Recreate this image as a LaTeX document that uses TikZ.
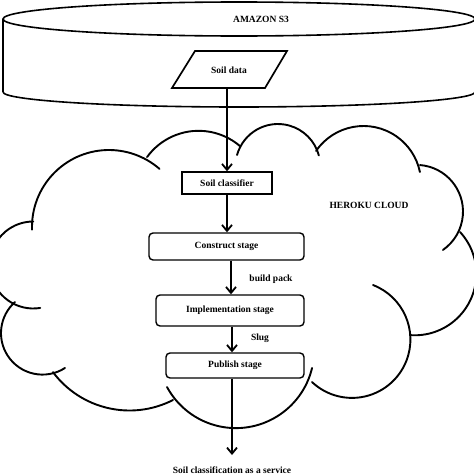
\documentclass[tikz,border=0pt]{standalone}
\usepackage{fontspec}
\setmainfont{Liberation Serif}
\usetikzlibrary{arrows.meta}
\newcommand\cloudarc[5]{\draw[cloudline] (#1,#2) ++(#3:#5) arc[start angle=#3, end angle=#4, radius=#5];}
\begin{document}
\begin{tikzpicture}[x=1pt,y=-1pt,
  lbl/.style={font=\fontsize{9.5}{11}\selectfont\bfseries, inner sep=0pt},
  cloudline/.style={line width=1.9pt, line cap=round},
  cylline/.style={line width=1.6pt},
  box/.style={draw, line width=1.4pt, fill=white, font=\fontsize{9.5}{11}\selectfont\bfseries, inner sep=0pt},
  stagebox/.style={box, rounded corners=4pt},
  arr/.style={line width=1.8pt, -{Straight Barb[length=6pt,width=10pt,line width=1.8pt]}}]
\fill[white] (0,0) rectangle (474,474);
\useasboundingbox (0,0) rectangle (474,474);
% cylinder (Amazon S3)
\draw[cylline] (239,19) ellipse [x radius=236, y radius=17];
\draw[cylline] (3,19) -- (3,92);
\draw[cylline] (475,19) -- (475,92);
\draw[cylline] (3,92) arc[start angle=180, end angle=0, x radius=236, y radius=15];
\node[lbl] (s3) at (261,19) {AMAZON S3};
% soil data parallelogram
\coordinate (p1) at (195,51);
\coordinate (p2) at (287,51);
\coordinate (p3) at (265,88);
\coordinate (p4) at (172,88);
\draw[line width=1.7pt, line join=miter, fill=white] (p1) -- (p2) -- (p3) -- (p4) -- cycle;
\node[lbl] (sd) at (229,70) {Soil data};
\coordinate (sdout) at (227,88);
% Heroku cloud
\cloudarc{109}{227}{178}{311}{77}
\cloudarc{198.6}{194.5}{216}{311}{63.7}
\cloudarc{277.9}{166.4}{195.6}{345}{42.4}
\cloudarc{363.5}{183.6}{214.5}{348.4}{57.6}
\cloudarc{416.3}{211.6}{274.5}{415.2}{46.7}
\cloudarc{414.7}{273.7}{317.4}{454.4}{61.6}
\cloudarc{352}{339.5}{291.1}{493.3}{58.4}
\cloudarc{235.9}{349.8}{13.4}{151.6}{78.3}
\cloudarc{129.5}{315}{62.9}{143.3}{95.5}
\cloudarc{42.5}{333.1}{57.2}{228.5}{41.5}
\cloudarc{33.3}{265}{80.8}{270}{43.5}
\node[lbl] (heroku) at (369,205) {HEROKU CLOUD};
% stages
\node[box, minimum width=90pt, minimum height=22pt] (cls) at (227,183) {Soil classifier};
\node[stagebox, minimum width=155pt, minimum height=27pt] (cons) at (226.5,246.5) {Construct stage};
\node[stagebox, minimum width=148pt, minimum height=31pt] (impl) at (230,310.5) {Implementation stage};
\node[stagebox, minimum width=138pt, minimum height=25pt] (pub) at (235,365.5) {Publish stage};
\node[lbl, anchor=base] (out) at (232,473) {Soil classification as a service};
\coordinate (outtip) at (232,455);
% connectors
\draw[arr] (sdout) -- (sdout |- cls.north);
\draw[arr] (cls.south) -- (cls.south |- cons.north);
\draw[arr] ([xshift=4.5pt]cons.south) -- ([xshift=4.5pt]cons.south |- impl.north);
\draw[arr] ([xshift=2pt]impl.south) -- ([xshift=2pt]impl.south |- pub.north);
\draw[arr] ([xshift=-3pt]pub.south) -- (outtip);
\node[lbl] (bp) at (271,279) {build pack};
\node[lbl] (slug) at (260,338) {Slug};
\end{tikzpicture}
\end{document}
